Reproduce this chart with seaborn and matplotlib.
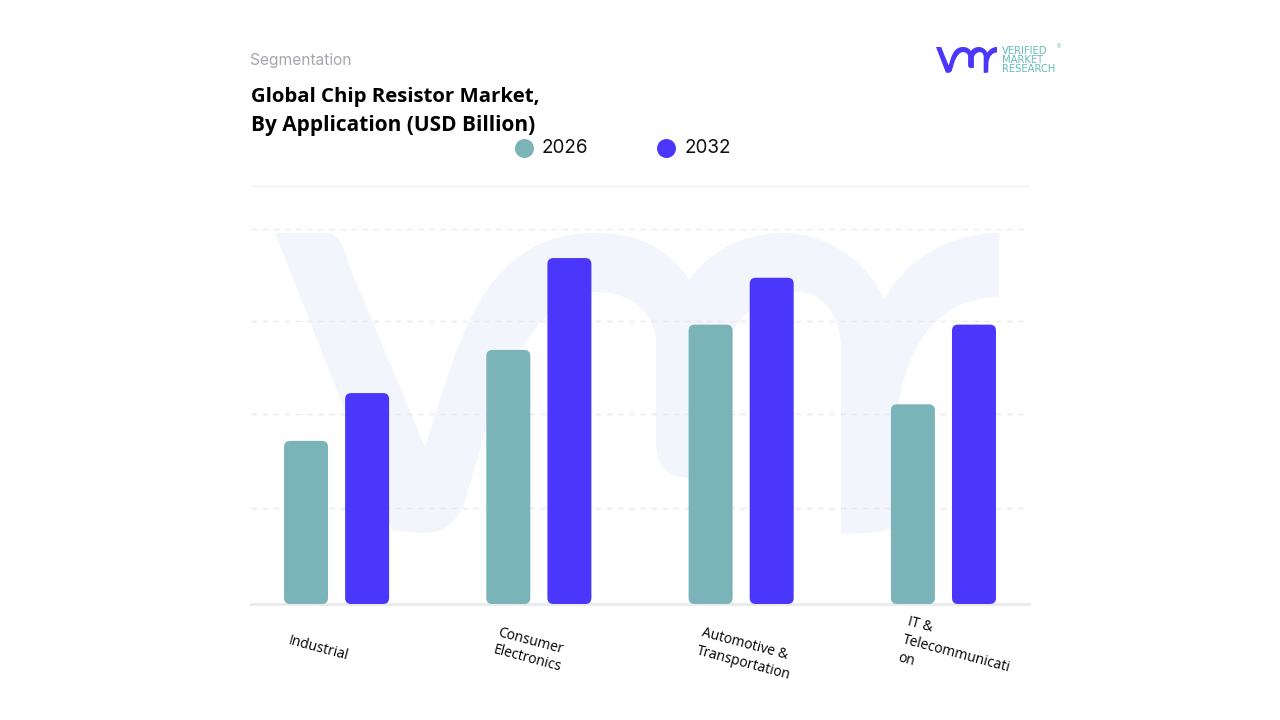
import pandas as pd
import seaborn as sns
import matplotlib.pyplot as plt
from matplotlib.patches import FancyBboxPatch, PathPatch
from matplotlib.path import Path

categories = ['Industrial', 'Consumer Electronics', 'Automotive & Transportation', 'IT & Telecommunication']
tick_labels = ['Industrial', 'Consumer\nElectronics', 'Automotive &\nTransportation', 'IT &\nTelecommunicati\non']
years = ['2026', '2032']
values_2026 = [1.74, 2.71, 2.98, 2.13]
values_2032 = [2.25, 3.69, 3.48, 2.98]
colors = ['#7bb4b8', '#4b37fb']

W, H = 1280, 720
BODY_FONT = ['Open Sans', 'DejaVu Sans']

sns.set_theme(style='white')
plt.rcParams['font.family'] = ['Inter', 'DejaVu Sans']

df = pd.DataFrame({
    'category': categories * 2,
    'year': [years[0]] * 4 + [years[1]] * 4,
    'value': values_2026 + values_2032,
})

fig = plt.figure(figsize=(W / 100, H / 100), dpi=100, facecolor='white')

# Pixel space layer, for the watermark, the logo and the header
bg = fig.add_axes([0, 0, 1, 1], zorder=0)
bg.set_xlim(0, W)
bg.set_ylim(H, 0)
bg.axis('off')

# Outline of the vmr mark, (code, points), traced at watermark size
M, L, C = Path.MOVETO, Path.LINETO, Path.CURVE4
mark = [
    (M, [(275, 233)]), (L, [(326, 233)]),
    (C, [(340, 233), (345, 250), (349, 265)]), (L, [(425, 447)]),
    (C, [(455, 360), (475, 233), (595, 233)]),
    (C, [(640, 233), (670, 250), (689, 280)]),
    (C, [(710, 250), (745, 233), (783, 233)]),
    (C, [(830, 233), (870, 265), (884, 300)]),
    (C, [(905, 260), (950, 233), (999, 233)]), (L, [(999, 297)]),
    (C, [(950, 297), (905, 330), (897, 420)]), (L, [(895, 528)]),
    (C, [(875, 533), (855, 535), (841, 533)]), (L, [(841, 345)]),
    (C, [(838, 310), (820, 292), (798, 292)]),
    (C, [(770, 292), (740, 310), (725, 345)]), (L, [(725, 475)]),
    (L, [(692, 478)]), (C, [(665, 478), (656, 465), (656, 440)]), (L, [(656, 340)]),
    (C, [(652, 310), (630, 292), (595, 292)]),
    (C, [(560, 292), (520, 330), (489, 420)]), (L, [(463, 507)]),
    (C, [(452, 528), (440, 533), (420, 533)]), (L, [(392, 530)]),
    (L, [(275, 233)]),
]


def draw_mark(ax, x0, y0, x1, y1, color):
    sx = (x1 - x0) / (999 - 275)
    sy = (y1 - y0) / (535 - 233)
    verts, codes = [], []
    for code, pts in mark:
        for a, b in pts:
            verts.append((x0 + (a - 275) * sx, y0 + (b - 233) * sy))
            codes.append(code)
    ax.add_patch(PathPatch(Path(verts, codes), facecolor=color, edgecolor='none'))


draw_mark(bg, 275, 233, 999, 535, '#f3f5fc')
draw_mark(bg, 936, 47, 997, 73, colors[1])

bg.text(250, 60, 'Segmentation', fontsize=11.2, color='#a6a6ad', va='center')
bg.text(251, 97, 'Global Chip Resistor Market,', fontsize=14.7, fontweight='bold',
        color='black', va='center', family=BODY_FONT)
bg.text(251, 126, 'By Application (USD Billion)', fontsize=15, fontweight='bold',
        color='black', va='center', family=BODY_FONT)
bg.plot([251, 1029], [186, 186], color='#eeeff1', lw=1)

for txt, y in zip(['VERIFIED', 'MARKET', 'RESEARCH'], [51, 60, 69]):
    bg.text(1002, y, txt, fontsize=7.2, fontweight='medium', color='#62bdb4', va='center', family='DejaVu Sans')
bg.text(1057, 47, '®', fontsize=4.5, color='#6fc3bb', va='center')

# Main chart, positioned so that the bars land on the reference pixels
ax = fig.add_axes([251 / W, 1 - 604 / H, (1029 - 251) / W, (604 - 229) / H], zorder=1)
ax.patch.set_alpha(0)
sns.barplot(data=df, x='category', y='value', hue='year', palette=colors,
            width=0.604, gap=0.28, saturation=1, legend=False, ax=ax, zorder=3)
ax.set_xlim(-0.423, 3.423)
ax.set_ylim(0, 4)
ax.set_xlabel('')
ax.set_ylabel('')
ax.set_yticks([1.02, 2.03, 3.02, 4])
ax.set_yticklabels([])
ax.set_xticks(range(4))
ax.set_xticklabels([])
ax.tick_params(length=0)
ax.grid(axis='y', color='#e8e9ec', lw=1, ls=(0, (4, 4)))
ax.set_axisbelow(True)
sns.despine(ax=ax, left=True, top=True, right=True)
ax.spines['bottom'].set_color('#e8eaed')
ax.spines['bottom'].set_linewidth(2)

# Swap the square bars for rounded ones with the same extents
x_px = (1029 - 251) / (3.423 + 0.423)
y_px = (604 - 229) / 4
for bar in list(ax.patches):
    x, y, w, h = bar.get_x(), bar.get_y(), bar.get_width(), bar.get_height()
    pad = 6 / x_px
    ax.add_patch(FancyBboxPatch((x + pad, y + pad * x_px / y_px), w - 2 * pad, h - 2 * pad * x_px / y_px,
                                boxstyle=f'round,pad={pad},rounding_size={pad}',
                                mutation_aspect=x_px / y_px,
                                facecolor=bar.get_facecolor(), edgecolor='none', zorder=3))
    bar.remove()

# Legend
for xc, yc, year, color, tx in zip([523.5, 666], [147.5, 147.5], years, colors, [542, 685]):
    bg.scatter([xc], [yc], s=187, color=color, linewidths=0)
    bg.text(tx, yc + 0.5, year, fontsize=13.6, color='#111111', va='center')

# Category labels, sloped and left aligned as in the reference
label_offsets = [(-18, -45), (-9, -46), (5, -50), (13, -50)]
for i, (label, off) in enumerate(zip(tick_labels, label_offsets)):
    ax.annotate(label, xy=(i, 0), xytext=off, textcoords='offset pixels',
                rotation=-15, rotation_mode='anchor', ha='center', va='center',
                multialignment='left', fontsize=10, color='black', family=BODY_FONT,
                linespacing=1.3, annotation_clip=False)

fig.savefig('out.png', dpi=100)
